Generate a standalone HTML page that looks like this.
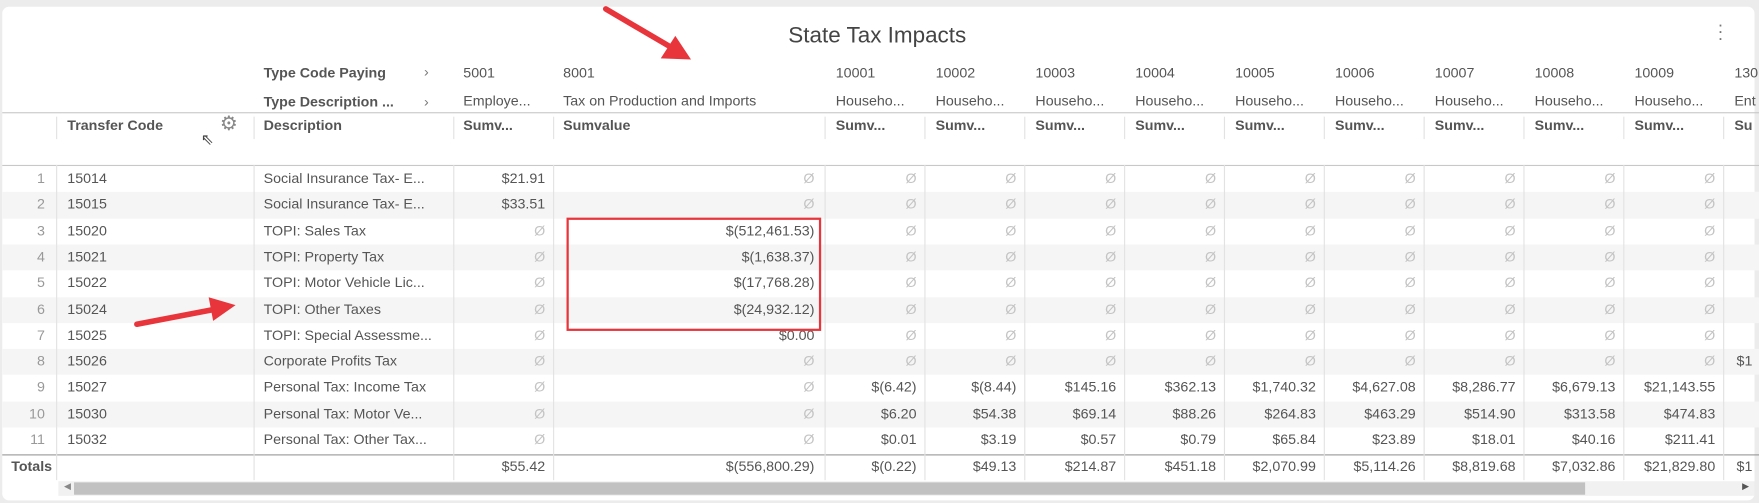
<!DOCTYPE html>
<html><head><meta charset="utf-8"><style>
*{margin:0;padding:0;box-sizing:border-box}
html,body{width:1759px;height:503px;overflow:hidden;background:#ececec}
#w{position:absolute;left:0;top:0;width:1568px;height:448px;transform:scale(1.12181);transform-origin:0 0;font-family:"Liberation Sans",sans-serif;font-size:12.7px;color:#555}
.card{position:absolute;left:2px;top:6px;width:1562px;height:440px;background:#fff;border-radius:6px}
.a{position:absolute;white-space:nowrap}
.b{font-weight:bold;color:#555}
.r{position:absolute;left:2px;width:1566px;height:23.3px;line-height:23.3px}
.s{background:#f5f5f5}
.r span{position:absolute;top:0;white-space:nowrap}
.c0{left:-2px;width:40px;text-align:right;color:#999}
.c1{left:58px}.c2{left:233px}
.c3{left:402px;width:82px;text-align:right}
.c4{left:491px;width:233px;text-align:right}
.c5{left:733px;width:82px;text-align:right}.c6{left:822px;width:82px;text-align:right}
.c7{left:911px;width:82px;text-align:right}.c8{left:1000px;width:82px;text-align:right}
.c9{left:1089px;width:82px;text-align:right}.c10{left:1178px;width:82px;text-align:right}
.c11{left:1267px;width:82px;text-align:right}.c12{left:1356px;width:82px;text-align:right}
.c13{left:1445px;width:82px;text-align:right}.c14{left:1546px}
.n{color:#c4c4c4}
.v{position:absolute;top:147px;width:1px;height:281px;background:#e2e2e2}
.vh{position:absolute;top:104px;width:1px;height:20px;background:#e2e2e2}
</style></head><body><div id="w">
<div class="card"></div>
<div class="a" style="left:0;width:1564px;top:21px;text-align:center;font-size:20px;color:#444">State Tax Impacts</div>
<div class="a" style="left:1531px;top:20px;font-size:16px;color:#777;line-height:6px">·<br>·<br>·</div>
<div class="a b" style="left:235px;top:58px">Type Code Paying</div>
<div class="a" style="left:378px;top:57px;color:#777">›</div>
<div class="a b" style="left:235px;top:84px">Type Description ...</div>
<div class="a" style="left:378px;top:84px;color:#777">›</div>
<div class="a" style="left:413px;top:58px">5001</div><div class="a" style="left:413px;top:83px">Employe...</div>
<div class="a" style="left:502px;top:58px">8001</div><div class="a" style="left:502px;top:83px">Tax on Production and Imports</div>
<div class="a" style="left:745px;top:58px">10001</div><div class="a" style="left:745px;top:83px">Househo...</div>
<div class="a" style="left:834px;top:58px">10002</div><div class="a" style="left:834px;top:83px">Househo...</div>
<div class="a" style="left:923px;top:58px">10003</div><div class="a" style="left:923px;top:83px">Househo...</div>
<div class="a" style="left:1012px;top:58px">10004</div><div class="a" style="left:1012px;top:83px">Househo...</div>
<div class="a" style="left:1101px;top:58px">10005</div><div class="a" style="left:1101px;top:83px">Househo...</div>
<div class="a" style="left:1190px;top:58px">10006</div><div class="a" style="left:1190px;top:83px">Househo...</div>
<div class="a" style="left:1279px;top:58px">10007</div><div class="a" style="left:1279px;top:83px">Househo...</div>
<div class="a" style="left:1368px;top:58px">10008</div><div class="a" style="left:1368px;top:83px">Househo...</div>
<div class="a" style="left:1457px;top:58px">10009</div><div class="a" style="left:1457px;top:83px">Househo...</div>
<div class="a" style="left:1546px;top:58px">130</div><div class="a" style="left:1546px;top:83px">Ent</div>
<div class="a" style="left:2px;top:100px;width:1566px;height:1px;background:#c8c8c8"></div>
<div class="a b" style="left:60px;top:105px">Transfer Code</div>
<div class="a" style="left:196px;top:100px;font-size:18px;color:#888">⚙</div>
<div class="a" style="left:179px;top:116px;font-size:14px;color:#444">⇖</div>
<div class="a b" style="left:235px;top:105px">Description</div>
<div class="a b" style="left:413px;top:105px">Sumv...</div>
<div class="a b" style="left:502px;top:105px">Sumvalue</div>
<div class="a b" style="left:745px;top:105px">Sumv...</div><div class="a b" style="left:834px;top:105px">Sumv...</div>
<div class="a b" style="left:923px;top:105px">Sumv...</div><div class="a b" style="left:1012px;top:105px">Sumv...</div>
<div class="a b" style="left:1101px;top:105px">Sumv...</div><div class="a b" style="left:1190px;top:105px">Sumv...</div>
<div class="a b" style="left:1279px;top:105px">Sumv...</div><div class="a b" style="left:1368px;top:105px">Sumv...</div>
<div class="a b" style="left:1457px;top:105px">Sumv...</div><div class="a b" style="left:1546px;top:105px">Su</div>
<div class="a" style="left:2px;top:147px;width:1566px;height:1px;background:#c8c8c8"></div>

<div class="r" style="top:148px"><span class="c0">1</span><span class="c1">15014</span><span class="c2">Social Insurance Tax- E...</span><span class="c3">$21.91</span><span class="c4 n">Ø</span><span class="c5 n">Ø</span><span class="c6 n">Ø</span><span class="c7 n">Ø</span><span class="c8 n">Ø</span><span class="c9 n">Ø</span><span class="c10 n">Ø</span><span class="c11 n">Ø</span><span class="c12 n">Ø</span><span class="c13 n">Ø</span></div>
<div class="r s" style="top:171.3px"><span class="c0">2</span><span class="c1">15015</span><span class="c2">Social Insurance Tax- E...</span><span class="c3">$33.51</span><span class="c4 n">Ø</span><span class="c5 n">Ø</span><span class="c6 n">Ø</span><span class="c7 n">Ø</span><span class="c8 n">Ø</span><span class="c9 n">Ø</span><span class="c10 n">Ø</span><span class="c11 n">Ø</span><span class="c12 n">Ø</span><span class="c13 n">Ø</span></div>
<div class="r" style="top:194.6px"><span class="c0">3</span><span class="c1">15020</span><span class="c2">TOPI: Sales Tax</span><span class="c3 n">Ø</span><span class="c4">$(512,461.53)</span><span class="c5 n">Ø</span><span class="c6 n">Ø</span><span class="c7 n">Ø</span><span class="c8 n">Ø</span><span class="c9 n">Ø</span><span class="c10 n">Ø</span><span class="c11 n">Ø</span><span class="c12 n">Ø</span><span class="c13 n">Ø</span></div>
<div class="r s" style="top:217.9px"><span class="c0">4</span><span class="c1">15021</span><span class="c2">TOPI: Property Tax</span><span class="c3 n">Ø</span><span class="c4">$(1,638.37)</span><span class="c5 n">Ø</span><span class="c6 n">Ø</span><span class="c7 n">Ø</span><span class="c8 n">Ø</span><span class="c9 n">Ø</span><span class="c10 n">Ø</span><span class="c11 n">Ø</span><span class="c12 n">Ø</span><span class="c13 n">Ø</span></div>
<div class="r" style="top:241.2px"><span class="c0">5</span><span class="c1">15022</span><span class="c2">TOPI: Motor Vehicle Lic...</span><span class="c3 n">Ø</span><span class="c4">$(17,768.28)</span><span class="c5 n">Ø</span><span class="c6 n">Ø</span><span class="c7 n">Ø</span><span class="c8 n">Ø</span><span class="c9 n">Ø</span><span class="c10 n">Ø</span><span class="c11 n">Ø</span><span class="c12 n">Ø</span><span class="c13 n">Ø</span></div>
<div class="r s" style="top:264.5px"><span class="c0">6</span><span class="c1">15024</span><span class="c2">TOPI: Other Taxes</span><span class="c3 n">Ø</span><span class="c4">$(24,932.12)</span><span class="c5 n">Ø</span><span class="c6 n">Ø</span><span class="c7 n">Ø</span><span class="c8 n">Ø</span><span class="c9 n">Ø</span><span class="c10 n">Ø</span><span class="c11 n">Ø</span><span class="c12 n">Ø</span><span class="c13 n">Ø</span></div>
<div class="r" style="top:287.8px"><span class="c0">7</span><span class="c1">15025</span><span class="c2">TOPI: Special Assessme...</span><span class="c3 n">Ø</span><span class="c4">$0.00</span><span class="c5 n">Ø</span><span class="c6 n">Ø</span><span class="c7 n">Ø</span><span class="c8 n">Ø</span><span class="c9 n">Ø</span><span class="c10 n">Ø</span><span class="c11 n">Ø</span><span class="c12 n">Ø</span><span class="c13 n">Ø</span></div>
<div class="r s" style="top:311.1px"><span class="c0">8</span><span class="c1">15026</span><span class="c2">Corporate Profits Tax</span><span class="c3 n">Ø</span><span class="c4 n">Ø</span><span class="c5 n">Ø</span><span class="c6 n">Ø</span><span class="c7 n">Ø</span><span class="c8 n">Ø</span><span class="c9 n">Ø</span><span class="c10 n">Ø</span><span class="c11 n">Ø</span><span class="c12 n">Ø</span><span class="c13 n">Ø</span><span class="c14">$1</span></div>
<div class="r" style="top:334.4px"><span class="c0">9</span><span class="c1">15027</span><span class="c2">Personal Tax: Income Tax</span><span class="c3 n">Ø</span><span class="c4 n">Ø</span><span class="c5">$(6.42)</span><span class="c6">$(8.44)</span><span class="c7">$145.16</span><span class="c8">$362.13</span><span class="c9">$1,740.32</span><span class="c10">$4,627.08</span><span class="c11">$8,286.77</span><span class="c12">$6,679.13</span><span class="c13">$21,143.55</span></div>
<div class="r s" style="top:357.7px"><span class="c0">10</span><span class="c1">15030</span><span class="c2">Personal Tax: Motor Ve...</span><span class="c3 n">Ø</span><span class="c4 n">Ø</span><span class="c5">$6.20</span><span class="c6">$54.38</span><span class="c7">$69.14</span><span class="c8">$88.26</span><span class="c9">$264.83</span><span class="c10">$463.29</span><span class="c11">$514.90</span><span class="c12">$313.58</span><span class="c13">$474.83</span></div>
<div class="r" style="top:381px"><span class="c0">11</span><span class="c1">15032</span><span class="c2">Personal Tax: Other Tax...</span><span class="c3 n">Ø</span><span class="c4 n">Ø</span><span class="c5">$0.01</span><span class="c6">$3.19</span><span class="c7">$0.57</span><span class="c8">$0.79</span><span class="c9">$65.84</span><span class="c10">$23.89</span><span class="c11">$18.01</span><span class="c12">$40.16</span><span class="c13">$211.41</span></div>
<div class="a" style="left:2px;top:405px;width:1566px;height:1px;background:#999"></div>
<div class="r" style="top:405px"><span class="b" style="left:8px">Totals</span><span class="c3">$55.42</span><span class="c4">$(556,800.29)</span><span class="c5">$(0.22)</span><span class="c6">$49.13</span><span class="c7">$214.87</span><span class="c8">$451.18</span><span class="c9">$2,070.99</span><span class="c10">$5,114.26</span><span class="c11">$8,819.68</span><span class="c12">$7,032.86</span><span class="c13">$21,829.80</span><span class="c14">$1</span></div>

<div class="v" style="left:50px"></div><div class="v" style="left:226px"></div><div class="v" style="left:404px"></div><div class="v" style="left:493px"></div><div class="v" style="left:735px"></div><div class="v" style="left:824px"></div><div class="v" style="left:913px"></div><div class="v" style="left:1002px"></div><div class="v" style="left:1091px"></div><div class="v" style="left:1180px"></div><div class="v" style="left:1269px"></div><div class="v" style="left:1358px"></div><div class="v" style="left:1447px"></div><div class="v" style="left:1536px"></div>
<div class="vh" style="left:50px"></div><div class="vh" style="left:226px"></div><div class="vh" style="left:404px"></div><div class="vh" style="left:493px"></div><div class="vh" style="left:735px"></div><div class="vh" style="left:824px"></div><div class="vh" style="left:913px"></div><div class="vh" style="left:1002px"></div><div class="vh" style="left:1091px"></div><div class="vh" style="left:1180px"></div><div class="vh" style="left:1269px"></div><div class="vh" style="left:1358px"></div><div class="vh" style="left:1447px"></div><div class="vh" style="left:1536px"></div>

<div class="a" style="left:52px;top:429px;width:1512px;height:13px;background:#f1f1f1"></div>
<div class="a" style="left:66px;top:430px;width:1347px;height:11px;background:#c1c1c1"></div>
<div class="a" style="left:57px;top:429px;font-size:8px;color:#888">◀</div>
<div class="a" style="left:1553px;top:429px;font-size:8px;color:#555">▶</div>

<div class="a" style="left:505px;top:194px;width:227px;height:101px;border:2px solid #e8353b"></div>
<svg class="a" style="left:0;top:0" width="1568" height="448">
<line x1="540" y1="8" x2="598" y2="42" stroke="#e8353b" stroke-width="5" stroke-linecap="round"/>
<polygon points="616,53 589,52 602,32" fill="#e8353b"/>
<line x1="122" y1="289" x2="190" y2="276" stroke="#e8353b" stroke-width="5" stroke-linecap="round"/>
<polygon points="210,272 186,265 190,286" fill="#e8353b"/>
</svg>
</div></body></html>
